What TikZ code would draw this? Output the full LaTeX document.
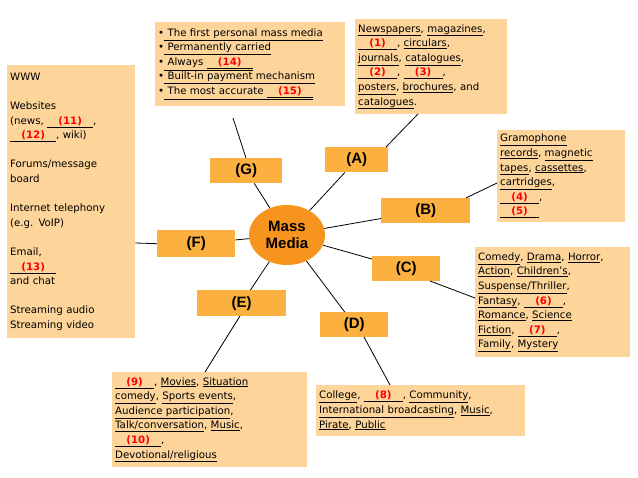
\documentclass[tikz,border=0pt]{standalone}
\usepackage{fontspec}
\setmainfont{DejaVu Sans}
\newfontfamily\lab{Liberation Sans}
\usetikzlibrary{positioning,shapes.geometric}
\definecolor{tbox}{HTML}{FDD49A}
\definecolor{lbox}{HTML}{FBB040}
\definecolor{hub}{HTML}{F7941D}
\newcommand\U[1]{\underline{#1}}
\newcommand\BL[1]{\underline{\hspace{1.1em}\textcolor{red}{\textbf{(#1)}}\hspace{1.1em}}}
\begin{document}
\begin{tikzpicture}[x=1pt,y=-1pt,
  tb/.style={fill=tbox,anchor=north west,align=left,inner sep=4pt,font=\fontsize{10.2}{14.6}\selectfont},
  lb/.style={fill=lbox,anchor=north west,font=\lab\bfseries\fontsize{15}{17}\selectfont,inner sep=0pt},
  ln/.style={line width=0.8pt}]
\useasboundingbox (0,0) rectangle (638,478);
\node[tb,minimum width=190,minimum height=84,text width=184,inner xsep=3pt] (tg) at (155,22) {%
\textbullet\U{ The first personal mass media}\\\textbullet\U{ Permanently carried}\\
\textbullet\U{ Always \BL{14}}\\\textbullet\U{ Built-in payment mechanism}\\
\textbullet\U{ The most accurate \BL{15}}};
\node[tb,minimum width=152,minimum height=95,text width=146,inner xsep=3pt] (ta) at (355,19) {%
\U{Newspapers}, \U{magazines},\\\BL{1}, \U{circulars},\\\U{journals}, \U{catalogues},\\
\BL{2}, \BL{3},\\\U{posters}, \U{brochures}, and\\\U{catalogues}.};
\node[tb,minimum width=128,minimum height=273,text width=122,inner xsep=3pt] (tf) at (7,65) {%
WWW\\[14.6pt]Websites\\(news, \BL{11},\\\BL{12}, wiki)\\[14.6pt]Forums/message\\board\\[14.6pt]
Internet telephony\\(e.g. VoIP)\\[14.6pt]Email,\\\BL{13}\\and chat\\[14.6pt]Streaming audio\\Streaming video};
\node[tb,minimum width=128,minimum height=92,text width=122,inner xsep=3pt] (tbb) at (497,130) {%
\U{Gramophone}\\\U{records}, \U{magnetic}\\\U{tapes}, \U{cassettes},\\\U{cartridges},\\\BL{4},\\\BL{5}};
\node[tb,minimum width=155,minimum height=110,text width=149,inner xsep=3pt] (tc) at (475,247) {%
\U{Comedy}, \U{Drama}, \U{Horror},\\\U{Action}, \U{Children's},\\\U{Suspense/Thriller},\\
\U{Fantasy}, \BL{6},\\\U{Romance}, \U{Science}\\\U{Fiction}, \BL{7},\\\U{Family}, \U{Mystery}};
\node[tb,minimum width=195,minimum height=95,text width=189,inner xsep=3pt] (te) at (112,372) {%
\BL{9}, \U{Movies}, \U{Situation}\\\U{comedy}, \U{Sports events},\\\U{Audience participation},\\
\U{Talk/conversation}, \U{Music},\\\BL{10},\\\U{Devotional/religious}};
\node[tb,minimum width=209,minimum height=51,text width=203,inner xsep=3pt] (td) at (316,385) {%
\U{College}, \BL{8}, \U{Community},\\\U{International broadcasting}, \U{Music},\\\U{Pirate}, \U{Public}};
\node[lb,minimum width=72,minimum height=25] (g) at (210,158) {(G)};
\node[lb,minimum width=63,minimum height=25] (a) at (325,147) {(A)};
\node[lb,minimum width=89,minimum height=25] (b) at (381,198) {(B)};
\node[lb,minimum width=78,minimum height=27] (f) at (157,230) {(F)};
\node[lb,minimum width=68,minimum height=25] (c) at (372,256) {(C)};
\node[lb,minimum width=89,minimum height=26] (e) at (197,290) {(E)};
\node[lb,minimum width=68,minimum height=25] (d) at (320,312) {(D)};
\node[ellipse,fill=hub,minimum width=76,minimum height=60,inner sep=0pt,align=center,
  font=\lab\bfseries\fontsize{15}{17}\selectfont] (m) at (287,235) {Mass\\Media};
\coordinate (g1) at (233,118); \coordinate (g2) at (246,158);
\coordinate (a1) at (418,114); \coordinate (a2) at (386,147);
\coordinate (b1) at (466,198); \coordinate (b2) at (497,183);
\coordinate (c1) at (430,281); \coordinate (c2) at (475,298);
\coordinate (e1) at (240,316); \coordinate (e2) at (205,372);
\coordinate (d1) at (364,337); \coordinate (d2) at (390,385);
\draw[ln] (g1) -- (g2); \draw[ln] (a1) -- (a2); \draw[ln] (b1) -- (b2);
\draw[ln] (c1) -- (c2); \draw[ln] (e1) -- (e2); \draw[ln] (d1) -- (d2);
\draw[ln] (tf.east |- 0,243) -- (f.west);
\draw[ln] (m) -- (g); \draw[ln] (m) -- (a); \draw[ln] (m) -- (b); \draw[ln] (m) -- (c);
\draw[ln] (m) -- (d); \draw[ln] (m) -- (e); \draw[ln] (m) -- (f);
\end{tikzpicture}
\end{document}
